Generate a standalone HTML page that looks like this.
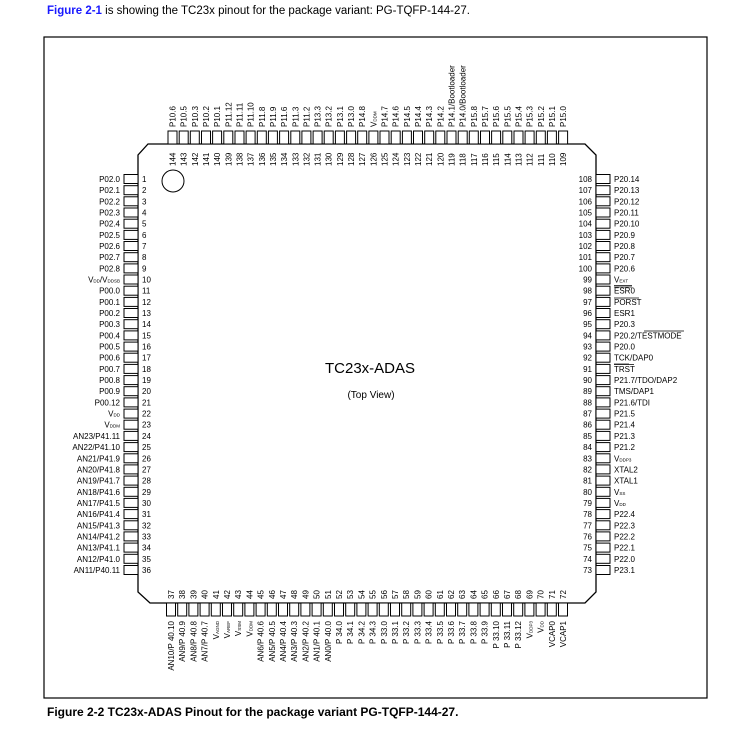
<!DOCTYPE html>
<html><head><meta charset="utf-8"><style>
html,body{margin:0;padding:0;background:#fff;}
svg{display:block;font-family:"Liberation Sans",sans-serif;}
.p{font-size:8px;fill:#000;}
.b{fill:#fff;stroke:#000;stroke-width:1;}
.s{font-size:4.5px;}
</style></head><body>
<svg width="750" height="756" viewBox="0 0 750 756" xmlns="http://www.w3.org/2000/svg">
<text x="47" y="14" font-size="11.5"><tspan fill="#1a1aff" font-weight="bold">Figure 2-1</tspan><tspan fill="#000"> is showing the TC23x pinout for the package variant: PG-TQFP-144-27.</tspan></text>
<rect x="44" y="37" width="663" height="661" fill="none" stroke="#000" stroke-width="1.2"/>
<text x="47" y="716" font-size="12" font-weight="bold">Figure 2-2   TC23x-ADAS Pinout for the package variant PG-TQFP-144-27.</text>

<polygon points="148,144 585,144 596,155 596,592 585,603 150,603 138,592 138,155" fill="none" stroke="#000" stroke-width="1.3"/>
<circle cx="173" cy="181" r="11" fill="none" stroke="#000" stroke-width="1"/>
<text x="370" y="373" font-size="15" text-anchor="middle">TC23x-ADAS</text>
<text x="371" y="398" font-size="10" text-anchor="middle">(Top View)</text>

<!-- LEFT -->
<g class="p">
<g text-anchor="end">
<text x="120" y="182">P02.0</text>
<text x="120" y="193.2">P02.1</text>
<text x="120" y="204.3">P02.2</text>
<text x="120" y="215.5">P02.3</text>
<text x="120" y="226.7">P02.4</text>
<text x="120" y="237.9">P02.5</text>
<text x="120" y="249">P02.6</text>
<text x="120" y="260.2">P02.7</text>
<text x="120" y="271.4">P02.8</text>
<text x="120" y="282.5">V<tspan class="s">DD</tspan>/V<tspan class="s">DDSB</tspan></text>
<text x="120" y="293.7">P00.0</text>
<text x="120" y="304.9">P00.1</text>
<text x="120" y="316">P00.2</text>
<text x="120" y="327.2">P00.3</text>
<text x="120" y="338.4">P00.4</text>
<text x="120" y="349.6">P00.5</text>
<text x="120" y="360.7">P00.6</text>
<text x="120" y="371.9">P00.7</text>
<text x="120" y="383.1">P00.8</text>
<text x="120" y="394.2">P00.9</text>
<text x="120" y="405.4">P00.12</text>
<text x="120" y="416.6">V<tspan class="s">DD</tspan></text>
<text x="120" y="427.7">V<tspan class="s">DDM</tspan></text>
<text x="120" y="438.9">AN23/P41.11</text>
<text x="120" y="450.1">AN22/P41.10</text>
<text x="120" y="461.3">AN21/P41.9</text>
<text x="120" y="472.4">AN20/P41.8</text>
<text x="120" y="483.6">AN19/P41.7</text>
<text x="120" y="494.8">AN18/P41.6</text>
<text x="120" y="505.9">AN17/P41.5</text>
<text x="120" y="517.1">AN16/P41.4</text>
<text x="120" y="528.3">AN15/P41.3</text>
<text x="120" y="539.4">AN14/P41.2</text>
<text x="120" y="550.6">AN13/P41.1</text>
<text x="120" y="561.8">AN12/P41.0</text>
<text x="120" y="573">AN11/P40.11</text>
</g>
<g>
<text x="142" y="182">1</text><text x="142" y="193.2">2</text><text x="142" y="204.3">3</text><text x="142" y="215.5">4</text><text x="142" y="226.7">5</text><text x="142" y="237.9">6</text><text x="142" y="249">7</text><text x="142" y="260.2">8</text><text x="142" y="271.4">9</text><text x="142" y="282.5">10</text><text x="142" y="293.7">11</text><text x="142" y="304.9">12</text><text x="142" y="316">13</text><text x="142" y="327.2">14</text><text x="142" y="338.4">15</text><text x="142" y="349.6">16</text><text x="142" y="360.7">17</text><text x="142" y="371.9">18</text><text x="142" y="383.1">19</text><text x="142" y="394.2">20</text><text x="142" y="405.4">21</text><text x="142" y="416.6">22</text><text x="142" y="427.7">23</text><text x="142" y="438.9">24</text><text x="142" y="450.1">25</text><text x="142" y="461.3">26</text><text x="142" y="472.4">27</text><text x="142" y="483.6">28</text><text x="142" y="494.8">29</text><text x="142" y="505.9">30</text><text x="142" y="517.1">31</text><text x="142" y="528.3">32</text><text x="142" y="539.4">33</text><text x="142" y="550.6">34</text><text x="142" y="561.8">35</text><text x="142" y="573">36</text>
</g>
</g>
<g class="b">
<rect x="124" y="174.5" width="14" height="9"/><rect x="124" y="185.7" width="14" height="9"/><rect x="124" y="196.8" width="14" height="9"/><rect x="124" y="208" width="14" height="9"/><rect x="124" y="219.2" width="14" height="9"/><rect x="124" y="230.4" width="14" height="9"/><rect x="124" y="241.5" width="14" height="9"/><rect x="124" y="252.7" width="14" height="9"/><rect x="124" y="263.9" width="14" height="9"/><rect x="124" y="275" width="14" height="9"/><rect x="124" y="286.2" width="14" height="9"/><rect x="124" y="297.4" width="14" height="9"/><rect x="124" y="308.5" width="14" height="9"/><rect x="124" y="319.7" width="14" height="9"/><rect x="124" y="330.9" width="14" height="9"/><rect x="124" y="342.1" width="14" height="9"/><rect x="124" y="353.2" width="14" height="9"/><rect x="124" y="364.4" width="14" height="9"/><rect x="124" y="375.6" width="14" height="9"/><rect x="124" y="386.7" width="14" height="9"/><rect x="124" y="397.9" width="14" height="9"/><rect x="124" y="409.1" width="14" height="9"/><rect x="124" y="420.2" width="14" height="9"/><rect x="124" y="431.4" width="14" height="9"/><rect x="124" y="442.6" width="14" height="9"/><rect x="124" y="453.8" width="14" height="9"/><rect x="124" y="464.9" width="14" height="9"/><rect x="124" y="476.1" width="14" height="9"/><rect x="124" y="487.3" width="14" height="9"/><rect x="124" y="498.4" width="14" height="9"/><rect x="124" y="509.6" width="14" height="9"/><rect x="124" y="520.8" width="14" height="9"/><rect x="124" y="531.9" width="14" height="9"/><rect x="124" y="543.1" width="14" height="9"/><rect x="124" y="554.3" width="14" height="9"/><rect x="124" y="565.5" width="14" height="9"/>
</g>

<!-- RIGHT -->
<g class="p">
<g text-anchor="end">
<text x="592" y="182">108</text><text x="592" y="193.2">107</text><text x="592" y="204.3">106</text><text x="592" y="215.5">105</text><text x="592" y="226.7">104</text><text x="592" y="237.9">103</text><text x="592" y="249">102</text><text x="592" y="260.2">101</text><text x="592" y="271.4">100</text><text x="592" y="282.5">99</text><text x="592" y="293.7">98</text><text x="592" y="304.9">97</text><text x="592" y="316">96</text><text x="592" y="327.2">95</text><text x="592" y="338.4">94</text><text x="592" y="349.6">93</text><text x="592" y="360.7">92</text><text x="592" y="371.9">91</text><text x="592" y="383.1">90</text><text x="592" y="394.2">89</text><text x="592" y="405.4">88</text><text x="592" y="416.6">87</text><text x="592" y="427.7">86</text><text x="592" y="438.9">85</text><text x="592" y="450.1">84</text><text x="592" y="461.3">83</text><text x="592" y="472.4">82</text><text x="592" y="483.6">81</text><text x="592" y="494.8">80</text><text x="592" y="505.9">79</text><text x="592" y="517.1">78</text><text x="592" y="528.3">77</text><text x="592" y="539.4">76</text><text x="592" y="550.6">75</text><text x="592" y="561.8">74</text><text x="592" y="573">73</text>
</g>
<g>
<text x="614" y="182">P20.14</text>
<text x="614" y="193.2">P20.13</text>
<text x="614" y="204.3">P20.12</text>
<text x="614" y="215.5">P20.11</text>
<text x="614" y="226.7">P20.10</text>
<text x="614" y="237.9">P20.9</text>
<text x="614" y="249">P20.8</text>
<text x="614" y="260.2">P20.7</text>
<text x="614" y="271.4">P20.6</text>
<text x="614" y="282.5">V<tspan class="s">EXT</tspan></text>
<text x="614" y="293.7">ESR0</text>
<text x="614" y="304.9">PORST</text>
<text x="614" y="316">ESR1</text>
<text x="614" y="327.2">P20.3</text>
<text x="614" y="338.4">P20.2/TESTMODE</text>
<text x="614" y="349.6">P20.0</text>
<text x="614" y="360.7">TCK/DAP0</text>
<text x="614" y="371.9">TRST</text>
<text x="614" y="383.1">P21.7/TDO/DAP2</text>
<text x="614" y="394.2">TMS/DAP1</text>
<text x="614" y="405.4">P21.6/TDI</text>
<text x="614" y="416.6">P21.5</text>
<text x="614" y="427.7">P21.4</text>
<text x="614" y="438.9">P21.3</text>
<text x="614" y="450.1">P21.2</text>
<text x="614" y="461.3">V<tspan class="s">DDP3</tspan></text>
<text x="614" y="472.4">XTAL2</text>
<text x="614" y="483.6">XTAL1</text>
<text x="614" y="494.8">V<tspan class="s">SS</tspan></text>
<text x="614" y="505.9">V<tspan class="s">DD</tspan></text>
<text x="614" y="517.1">P22.4</text>
<text x="614" y="528.3">P22.3</text>
<text x="614" y="539.4">P22.2</text>
<text x="614" y="550.6">P22.1</text>
<text x="614" y="561.8">P22.0</text>
<text x="614" y="573">P23.1</text>
</g>
</g>
<g stroke="#000" stroke-width="0.7">
<line x1="614" y1="285.5" x2="632" y2="285.5"/>
<line x1="614" y1="287" x2="632" y2="287"/>
<line x1="614" y1="298" x2="639" y2="298"/>
<line x1="644" y1="331" x2="684" y2="331"/>
<line x1="614" y1="364" x2="629" y2="364"/>
<line x1="614" y1="364.5" x2="634" y2="364.5"/>
</g>
<g class="b">
<rect x="596" y="174.5" width="14" height="9"/><rect x="596" y="185.7" width="14" height="9"/><rect x="596" y="196.8" width="14" height="9"/><rect x="596" y="208" width="14" height="9"/><rect x="596" y="219.2" width="14" height="9"/><rect x="596" y="230.4" width="14" height="9"/><rect x="596" y="241.5" width="14" height="9"/><rect x="596" y="252.7" width="14" height="9"/><rect x="596" y="263.9" width="14" height="9"/><rect x="596" y="275" width="14" height="9"/><rect x="596" y="286.2" width="14" height="9"/><rect x="596" y="297.4" width="14" height="9"/><rect x="596" y="308.5" width="14" height="9"/><rect x="596" y="319.7" width="14" height="9"/><rect x="596" y="330.9" width="14" height="9"/><rect x="596" y="342.1" width="14" height="9"/><rect x="596" y="353.2" width="14" height="9"/><rect x="596" y="364.4" width="14" height="9"/><rect x="596" y="375.6" width="14" height="9"/><rect x="596" y="386.7" width="14" height="9"/><rect x="596" y="397.9" width="14" height="9"/><rect x="596" y="409.1" width="14" height="9"/><rect x="596" y="420.2" width="14" height="9"/><rect x="596" y="431.4" width="14" height="9"/><rect x="596" y="442.6" width="14" height="9"/><rect x="596" y="453.8" width="14" height="9"/><rect x="596" y="464.9" width="14" height="9"/><rect x="596" y="476.1" width="14" height="9"/><rect x="596" y="487.3" width="14" height="9"/><rect x="596" y="498.4" width="14" height="9"/><rect x="596" y="509.6" width="14" height="9"/><rect x="596" y="520.8" width="14" height="9"/><rect x="596" y="531.9" width="14" height="9"/><rect x="596" y="543.1" width="14" height="9"/><rect x="596" y="554.3" width="14" height="9"/><rect x="596" y="565.5" width="14" height="9"/>
</g>

<!-- TOP -->
<g class="b">
<rect x="168" y="131" width="9" height="13"/><rect x="179.2" y="131" width="9" height="13"/><rect x="190.3" y="131" width="9" height="13"/><rect x="201.5" y="131" width="9" height="13"/><rect x="212.6" y="131" width="9" height="13"/><rect x="223.8" y="131" width="9" height="13"/><rect x="235" y="131" width="9" height="13"/><rect x="246.1" y="131" width="9" height="13"/><rect x="257.3" y="131" width="9" height="13"/><rect x="268.4" y="131" width="9" height="13"/><rect x="279.6" y="131" width="9" height="13"/><rect x="290.8" y="131" width="9" height="13"/><rect x="301.9" y="131" width="9" height="13"/><rect x="313.1" y="131" width="9" height="13"/><rect x="324.2" y="131" width="9" height="13"/><rect x="335.4" y="131" width="9" height="13"/><rect x="346.6" y="131" width="9" height="13"/><rect x="357.7" y="131" width="9" height="13"/><rect x="368.9" y="131" width="9" height="13"/><rect x="380" y="131" width="9" height="13"/><rect x="391.2" y="131" width="9" height="13"/><rect x="402.4" y="131" width="9" height="13"/><rect x="413.5" y="131" width="9" height="13"/><rect x="424.7" y="131" width="9" height="13"/><rect x="435.8" y="131" width="9" height="13"/><rect x="447" y="131" width="9" height="13"/><rect x="458.2" y="131" width="9" height="13"/><rect x="469.3" y="131" width="9" height="13"/><rect x="480.5" y="131" width="9" height="13"/><rect x="491.6" y="131" width="9" height="13"/><rect x="502.8" y="131" width="9" height="13"/><rect x="514" y="131" width="9" height="13"/><rect x="525.1" y="131" width="9" height="13"/><rect x="536.3" y="131" width="9" height="13"/><rect x="547.4" y="131" width="9" height="13"/><rect x="558.6" y="131" width="9" height="13"/>
</g>
<g class="p">
<text transform="translate(175.5,127) rotate(-90)">P10.6</text>
<text transform="translate(186.7,127) rotate(-90)">P10.5</text>
<text transform="translate(197.8,127) rotate(-90)">P10.3</text>
<text transform="translate(209,127) rotate(-90)">P10.2</text>
<text transform="translate(220.1,127) rotate(-90)">P10.1</text>
<text transform="translate(231.3,127) rotate(-90)">P11.12</text>
<text transform="translate(242.5,127) rotate(-90)">P11.11</text>
<text transform="translate(253.6,127) rotate(-90)">P11.10</text>
<text transform="translate(264.8,127) rotate(-90)">P11.8</text>
<text transform="translate(275.9,127) rotate(-90)">P11.9</text>
<text transform="translate(287.1,127) rotate(-90)">P11.6</text>
<text transform="translate(298.3,127) rotate(-90)">P11.3</text>
<text transform="translate(309.4,127) rotate(-90)">P11.2</text>
<text transform="translate(320.6,127) rotate(-90)">P13.3</text>
<text transform="translate(331.7,127) rotate(-90)">P13.2</text>
<text transform="translate(342.9,127) rotate(-90)">P13.1</text>
<text transform="translate(354.1,127) rotate(-90)">P13.0</text>
<text transform="translate(365.2,127) rotate(-90)">P14.8</text>
<text transform="translate(376.4,127) rotate(-90)">V<tspan class="s">DDM</tspan></text>
<text transform="translate(387.5,127) rotate(-90)">P14.7</text>
<text transform="translate(398.7,127) rotate(-90)">P14.6</text>
<text transform="translate(409.9,127) rotate(-90)">P14.5</text>
<text transform="translate(421,127) rotate(-90)">P14.4</text>
<text transform="translate(432.2,127) rotate(-90)">P14.3</text>
<text transform="translate(443.3,127) rotate(-90)">P14.2</text>
<text transform="translate(454.5,127) rotate(-90)">P14.1/Bootloader</text>
<text transform="translate(465.7,127) rotate(-90)">P14.0/Bootloader</text>
<text transform="translate(476.8,127) rotate(-90)">P15.8</text>
<text transform="translate(488,127) rotate(-90)">P15.7</text>
<text transform="translate(499.1,127) rotate(-90)">P15.6</text>
<text transform="translate(510.3,127) rotate(-90)">P15.5</text>
<text transform="translate(521.5,127) rotate(-90)">P15.4</text>
<text transform="translate(532.6,127) rotate(-90)">P15.3</text>
<text transform="translate(543.8,127) rotate(-90)">P15.2</text>
<text transform="translate(554.9,127) rotate(-90)">P15.1</text>
<text transform="translate(566.1,127) rotate(-90)">P15.0</text>

<text transform="translate(175.5,166) rotate(-90)">144</text>
<text transform="translate(186.7,166) rotate(-90)">143</text>
<text transform="translate(197.8,166) rotate(-90)">142</text>
<text transform="translate(209,166) rotate(-90)">141</text>
<text transform="translate(220.1,166) rotate(-90)">140</text>
<text transform="translate(231.3,166) rotate(-90)">139</text>
<text transform="translate(242.5,166) rotate(-90)">138</text>
<text transform="translate(253.6,166) rotate(-90)">137</text>
<text transform="translate(264.8,166) rotate(-90)">136</text>
<text transform="translate(275.9,166) rotate(-90)">135</text>
<text transform="translate(287.1,166) rotate(-90)">134</text>
<text transform="translate(298.3,166) rotate(-90)">133</text>
<text transform="translate(309.4,166) rotate(-90)">132</text>
<text transform="translate(320.6,166) rotate(-90)">131</text>
<text transform="translate(331.7,166) rotate(-90)">130</text>
<text transform="translate(342.9,166) rotate(-90)">129</text>
<text transform="translate(354.1,166) rotate(-90)">128</text>
<text transform="translate(365.2,166) rotate(-90)">127</text>
<text transform="translate(376.4,166) rotate(-90)">126</text>
<text transform="translate(387.5,166) rotate(-90)">125</text>
<text transform="translate(398.7,166) rotate(-90)">124</text>
<text transform="translate(409.9,166) rotate(-90)">123</text>
<text transform="translate(421,166) rotate(-90)">122</text>
<text transform="translate(432.2,166) rotate(-90)">121</text>
<text transform="translate(443.3,166) rotate(-90)">120</text>
<text transform="translate(454.5,166) rotate(-90)">119</text>
<text transform="translate(465.7,166) rotate(-90)">118</text>
<text transform="translate(476.8,166) rotate(-90)">117</text>
<text transform="translate(488,166) rotate(-90)">116</text>
<text transform="translate(499.1,166) rotate(-90)">115</text>
<text transform="translate(510.3,166) rotate(-90)">114</text>
<text transform="translate(521.5,166) rotate(-90)">113</text>
<text transform="translate(532.6,166) rotate(-90)">112</text>
<text transform="translate(543.8,166) rotate(-90)">111</text>
<text transform="translate(554.9,166) rotate(-90)">110</text>
<text transform="translate(566.1,166) rotate(-90)">109</text>
</g>

<!-- BOTTOM -->
<g class="b">
<rect x="166.5" y="603" width="9" height="13"/><rect x="177.7" y="603" width="9" height="13"/><rect x="188.9" y="603" width="9" height="13"/><rect x="200.1" y="603" width="9" height="13"/><rect x="211.3" y="603" width="9" height="13"/><rect x="222.5" y="603" width="9" height="13"/><rect x="233.7" y="603" width="9" height="13"/><rect x="244.9" y="603" width="9" height="13"/><rect x="256.1" y="603" width="9" height="13"/><rect x="267.3" y="603" width="9" height="13"/><rect x="278.5" y="603" width="9" height="13"/><rect x="289.7" y="603" width="9" height="13"/><rect x="300.9" y="603" width="9" height="13"/><rect x="312.1" y="603" width="9" height="13"/><rect x="323.3" y="603" width="9" height="13"/><rect x="334.5" y="603" width="9" height="13"/><rect x="345.7" y="603" width="9" height="13"/><rect x="356.9" y="603" width="9" height="13"/><rect x="368.1" y="603" width="9" height="13"/><rect x="379.3" y="603" width="9" height="13"/><rect x="390.5" y="603" width="9" height="13"/><rect x="401.7" y="603" width="9" height="13"/><rect x="412.9" y="603" width="9" height="13"/><rect x="424.1" y="603" width="9" height="13"/><rect x="435.3" y="603" width="9" height="13"/><rect x="446.5" y="603" width="9" height="13"/><rect x="457.7" y="603" width="9" height="13"/><rect x="468.9" y="603" width="9" height="13"/><rect x="480.1" y="603" width="9" height="13"/><rect x="491.3" y="603" width="9" height="13"/><rect x="502.5" y="603" width="9" height="13"/><rect x="513.7" y="603" width="9" height="13"/><rect x="524.9" y="603" width="9" height="13"/><rect x="536.1" y="603" width="9" height="13"/><rect x="547.3" y="603" width="9" height="13"/><rect x="558.5" y="603" width="9" height="13"/>
</g>
<g class="p">
<text transform="translate(174,599) rotate(-90)">37</text>
<text transform="translate(185.2,599) rotate(-90)">38</text>
<text transform="translate(196.4,599) rotate(-90)">39</text>
<text transform="translate(207.6,599) rotate(-90)">40</text>
<text transform="translate(218.8,599) rotate(-90)">41</text>
<text transform="translate(230,599) rotate(-90)">42</text>
<text transform="translate(241.2,599) rotate(-90)">43</text>
<text transform="translate(252.4,599) rotate(-90)">44</text>
<text transform="translate(263.6,599) rotate(-90)">45</text>
<text transform="translate(274.8,599) rotate(-90)">46</text>
<text transform="translate(286,599) rotate(-90)">47</text>
<text transform="translate(297.2,599) rotate(-90)">48</text>
<text transform="translate(308.4,599) rotate(-90)">49</text>
<text transform="translate(319.6,599) rotate(-90)">50</text>
<text transform="translate(330.8,599) rotate(-90)">51</text>
<text transform="translate(342,599) rotate(-90)">52</text>
<text transform="translate(353.2,599) rotate(-90)">53</text>
<text transform="translate(364.4,599) rotate(-90)">54</text>
<text transform="translate(375.6,599) rotate(-90)">55</text>
<text transform="translate(386.8,599) rotate(-90)">56</text>
<text transform="translate(398,599) rotate(-90)">57</text>
<text transform="translate(409.2,599) rotate(-90)">58</text>
<text transform="translate(420.4,599) rotate(-90)">59</text>
<text transform="translate(431.6,599) rotate(-90)">60</text>
<text transform="translate(442.8,599) rotate(-90)">61</text>
<text transform="translate(454,599) rotate(-90)">62</text>
<text transform="translate(465.2,599) rotate(-90)">63</text>
<text transform="translate(476.4,599) rotate(-90)">64</text>
<text transform="translate(487.6,599) rotate(-90)">65</text>
<text transform="translate(498.8,599) rotate(-90)">66</text>
<text transform="translate(510,599) rotate(-90)">67</text>
<text transform="translate(521.2,599) rotate(-90)">68</text>
<text transform="translate(532.4,599) rotate(-90)">69</text>
<text transform="translate(543.6,599) rotate(-90)">70</text>
<text transform="translate(554.8,599) rotate(-90)">71</text>
<text transform="translate(566,599) rotate(-90)">72</text>
</g>
<g class="p" text-anchor="end">
<text transform="translate(174,621) rotate(-90)">AN10/P 40.10</text>
<text transform="translate(185.2,621) rotate(-90)">AN9/P 40.9</text>
<text transform="translate(196.4,621) rotate(-90)">AN8/P 40.8</text>
<text transform="translate(207.6,621) rotate(-90)">AN7/P 40.7</text>
<text transform="translate(218.8,621) rotate(-90)">V<tspan class="s">AGND</tspan></text>
<text transform="translate(230,621) rotate(-90)">V<tspan class="s">AREF</tspan></text>
<text transform="translate(241.2,621) rotate(-90)">V<tspan class="s">SSM</tspan></text>
<text transform="translate(252.4,621) rotate(-90)">V<tspan class="s">DDM</tspan></text>
<text transform="translate(263.6,621) rotate(-90)">AN6/P 40.6</text>
<text transform="translate(274.8,621) rotate(-90)">AN5/P 40.5</text>
<text transform="translate(286,621) rotate(-90)">AN4/P 40.4</text>
<text transform="translate(297.2,621) rotate(-90)">AN3/P 40.3</text>
<text transform="translate(308.4,621) rotate(-90)">AN2/P 40.2</text>
<text transform="translate(319.6,621) rotate(-90)">AN1/P 40.1</text>
<text transform="translate(330.8,621) rotate(-90)">AN0/P 40.0</text>
<text transform="translate(342,621) rotate(-90)">P 34.0</text>
<text transform="translate(353.2,621) rotate(-90)">P 34.1</text>
<text transform="translate(364.4,621) rotate(-90)">P 34.2</text>
<text transform="translate(375.6,621) rotate(-90)">P 34.3</text>
<text transform="translate(386.8,621) rotate(-90)">P 33.0</text>
<text transform="translate(398,621) rotate(-90)">P 33.1</text>
<text transform="translate(409.2,621) rotate(-90)">P 33.2</text>
<text transform="translate(420.4,621) rotate(-90)">P 33.3</text>
<text transform="translate(431.6,621) rotate(-90)">P 33.4</text>
<text transform="translate(442.8,621) rotate(-90)">P 33.5</text>
<text transform="translate(454,621) rotate(-90)">P 33.6</text>
<text transform="translate(465.2,621) rotate(-90)">P 33.7</text>
<text transform="translate(476.4,621) rotate(-90)">P 33.8</text>
<text transform="translate(487.6,621) rotate(-90)">P 33.9</text>
<text transform="translate(498.8,621) rotate(-90)">P 33.10</text>
<text transform="translate(510,621) rotate(-90)">P 33.11</text>
<text transform="translate(521.2,621) rotate(-90)">P 33.12</text>
<text transform="translate(532.4,621) rotate(-90)">V<tspan class="s">DDP3</tspan></text>
<text transform="translate(543.6,621) rotate(-90)">V<tspan class="s">DD</tspan></text>
<text transform="translate(554.8,621) rotate(-90)">VCAP0</text>
<text transform="translate(566,621) rotate(-90)">VCAP1</text>
</g>
</svg>
</body></html>
